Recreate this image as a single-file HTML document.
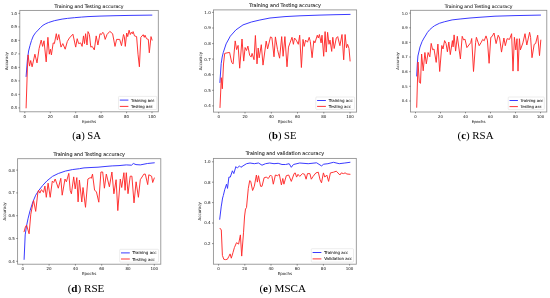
<!DOCTYPE html>
<html lang="en">
<head>
<meta charset="utf-8">
<title>Training and testing accuracy curves</title>
<style>
html,body{margin:0;padding:0;background:#fff;}
svg{display:block;}
.t{font-family:"DejaVu Sans","Liberation Sans",sans-serif;fill:#2e2e2e;stroke:#333;stroke-width:0.05;}
.tt{stroke-width:0.12;}
.lt{stroke-width:0.1;}
.cap{font-family:"Liberation Serif","DejaVu Serif",serif;fill:#000;}
.cap .b{font-weight:bold;}
.ax{fill:none;stroke:#8e8e8e;stroke-width:0.85;}
.tk{stroke:#444;stroke-width:0.6;}
.bl{fill:none;stroke:#3030ff;stroke-width:0.95;stroke-linejoin:round;stroke-linecap:round;}
.rd{fill:none;stroke:#ff2a2a;stroke-width:0.95;stroke-linejoin:round;stroke-linecap:round;}
.lg{fill:#fff;fill-opacity:0.8;stroke:#d6d6d6;stroke-width:0.45;}
</style>
</head>
<body>
<svg width="550" height="298" viewBox="0 0 550 298">
<rect x="0" y="0" width="550" height="298" fill="#fff"/>
<g id="panel-a">
<text class="t tt" x="89.1" y="8.3" font-size="4.68" text-anchor="middle">Training and Testing accuracy</text>
<polyline class="bl" points="26.1,76.5 27.4,60.0 28.6,51.0 30.0,45.5 31.5,40.5 33.3,36.0 35.5,32.8 38.1,30.1 40.5,27.5 43.0,25.3 45.8,23.7 48.6,22.5 54.3,20.7 62.1,19.1 67.3,18.4 74.3,17.7 81.4,17.1 88.0,16.6 100.0,16.1 115.0,15.7 130.0,15.4 151.9,15.1"/>
<polyline class="rd" points="26.1,107.9 27.4,68.0 28.1,54.9 29.5,66.1 30.7,60.5 32.1,66.8 34.9,54.2 37.0,62.9 39.1,48.5 41.2,40.1 42.6,46.4 44.0,40.8 46.2,61.9 47.9,37.3 49.3,54.2 50.4,49.2 51.4,54.9 53.2,42.9 54.4,43.6 56.3,33.7 57.4,40.1 58.8,34.5 61.0,47.1 62.8,43.6 65.2,49.2 67.3,41.5 69.4,38.0 72.9,34.2 75.7,47.1 77.2,38.7 78.6,43.6 80.7,42.9 82.1,46.4 83.5,35.9 84.5,43.6 85.6,33.7 87.0,45.0 88.0,31.6 89.4,34.5 90.8,47.1 92.2,46.4 94.3,49.9 96.2,35.9 97.9,45.0 100.0,33.7 101.4,34.5 102.8,32.3 103.8,33.7 105.2,39.4 107.0,34.5 109.8,31.4 112.6,33.7 115.0,46.4 116.6,39.4 119.7,39.4 121.5,45.7 123.5,34.5 124.3,36.6 125.3,46.4 126.7,33.0 127.7,36.6 129.1,30.2 130.3,34.5 131.4,32.3 132.4,33.7 133.1,31.6 134.5,35.9 136.6,36.6 138.0,54.2 139.4,66.8 140.8,37.3 143.2,34.7 144.3,37.3 145.0,35.2 146.5,38.7 148.3,39.4 149.3,52.8 151.0,36.6 152.1,40.1"/>
<rect class="ax" x="19.8" y="10.4" width="138.5" height="101.4"/>
<line class="tk" x1="18.4" y1="13.4" x2="19.8" y2="13.4"/><text class="t" x="17.1" y="14.8" font-size="3.9" text-anchor="end">1.0</text>
<line class="tk" x1="18.4" y1="26.9" x2="19.8" y2="26.9"/><text class="t" x="17.1" y="28.3" font-size="3.9" text-anchor="end">0.9</text>
<line class="tk" x1="18.4" y1="40.4" x2="19.8" y2="40.4"/><text class="t" x="17.1" y="41.8" font-size="3.9" text-anchor="end">0.8</text>
<line class="tk" x1="18.4" y1="53.9" x2="19.8" y2="53.9"/><text class="t" x="17.1" y="55.3" font-size="3.9" text-anchor="end">0.7</text>
<line class="tk" x1="18.4" y1="67.4" x2="19.8" y2="67.4"/><text class="t" x="17.1" y="68.8" font-size="3.9" text-anchor="end">0.6</text>
<line class="tk" x1="18.4" y1="80.9" x2="19.8" y2="80.9"/><text class="t" x="17.1" y="82.3" font-size="3.9" text-anchor="end">0.5</text>
<line class="tk" x1="18.4" y1="94.4" x2="19.8" y2="94.4"/><text class="t" x="17.1" y="95.8" font-size="3.9" text-anchor="end">0.4</text>
<line class="tk" x1="18.4" y1="107.9" x2="19.8" y2="107.9"/><text class="t" x="17.1" y="109.3" font-size="3.9" text-anchor="end">0.3</text>
<line class="tk" x1="24.8" y1="111.8" x2="24.8" y2="113.2"/><text class="t" x="24.8" y="117.7" font-size="3.9" text-anchor="middle">0</text>
<line class="tk" x1="50.3" y1="111.8" x2="50.3" y2="113.2"/><text class="t" x="50.3" y="117.7" font-size="3.9" text-anchor="middle">20</text>
<line class="tk" x1="75.7" y1="111.8" x2="75.7" y2="113.2"/><text class="t" x="75.7" y="117.7" font-size="3.9" text-anchor="middle">40</text>
<line class="tk" x1="101.1" y1="111.8" x2="101.1" y2="113.2"/><text class="t" x="101.1" y="117.7" font-size="3.9" text-anchor="middle">60</text>
<line class="tk" x1="126.6" y1="111.8" x2="126.6" y2="113.2"/><text class="t" x="126.6" y="117.7" font-size="3.9" text-anchor="middle">80</text>
<line class="tk" x1="152.0" y1="111.8" x2="152.0" y2="113.2"/><text class="t" x="152.0" y="117.7" font-size="3.9" text-anchor="middle">100</text>
<text class="t" x="89.1" y="122.7" font-size="3.9" text-anchor="middle">Epochs</text>
<text class="t" transform="translate(8.1,61.1) rotate(-90)" font-size="3.9" text-anchor="middle">Accuracy</text>
<rect class="lg" x="118.5" y="96.4" width="38.3" height="13.1" rx="0.8"/>
<line class="bl" x1="120.2" y1="100.1" x2="128.0" y2="100.1"/><line class="rd" x1="120.2" y1="106.4" x2="128.0" y2="106.4"/>
<text class="t lt" x="131.1" y="101.5" font-size="3.9">Training acc</text><text class="t lt" x="131.1" y="107.8" font-size="3.9">Testing acc</text>
<text class="cap" x="86.6" y="139.0" font-size="10.6" text-anchor="middle">(<tspan class="b">a</tspan>) SA</text>
</g>
<g id="panel-b">
<text class="t tt" x="285.1" y="7.3" font-size="4.83" text-anchor="middle">Training and Testing accuracy</text>
<polyline class="bl" points="219.9,82.5 220.6,72.0 221.2,63.5 222.2,57.0 223.3,52.4 226.1,43.9 230.3,36.2 235.9,29.9 243.0,24.9 251.4,22.0 259.9,20.0 270.0,18.0 285.0,16.6 300.0,15.8 320.0,15.1 335.0,14.7 350.1,14.4"/>
<polyline class="rd" points="220.0,107.5 221.3,77.7 222.3,88.8 223.5,64.0 224.7,53.4 227.0,52.9 229.6,52.4 231.7,62.5 233.1,63.9 235.2,40.9 236.6,49.6 238.1,45.4 239.7,68.2 242.0,39.0 243.7,61.1 245.1,47.5 246.5,50.5 247.9,46.1 249.7,55.5 251.2,56.9 252.1,53.4 254.0,59.7 255.4,35.5 257.0,63.9 258.2,48.0 259.2,57.8 261.3,44.7 263.0,65.1 266.2,41.1 267.6,48.9 270.5,36.9 271.9,37.6 274.0,56.8 275.4,36.9 277.5,49.6 279.6,58.2 281.7,36.6 283.1,56.3 284.9,36.6 287.0,66.8 288.5,47.1 292.0,37.3 293.4,44.3 294.5,38.0 296.2,40.1 298.3,44.3 299.7,35.2 301.4,67.5 303.0,39.4 304.2,46.4 305.6,40.1 307.5,42.2 309.2,37.3 310.3,41.5 312.1,57.7 313.8,40.8 314.9,42.9 317.3,35.2 318.3,38.0 319.4,34.5 321.1,42.9 322.0,35.2 323.7,56.3 325.1,31.6 326.2,52.1 327.6,32.3 329.0,44.3 330.0,40.1 331.7,51.4 332.8,37.3 334.2,48.5 336.3,38.0 337.7,36.6 339.9,45.7 342.0,34.5 343.7,59.8 345.1,34.5 346.5,47.8 347.6,44.3 349.0,48.5 350.1,61.0"/>
<rect class="ax" x="213.5" y="9.9" width="143.1" height="102.2"/>
<line class="tk" x1="212.1" y1="12.4" x2="213.5" y2="12.4"/><text class="t" x="210.7" y="13.8" font-size="4.0" text-anchor="end">1.0</text>
<line class="tk" x1="212.1" y1="28.0" x2="213.5" y2="28.0"/><text class="t" x="210.7" y="29.4" font-size="4.0" text-anchor="end">0.9</text>
<line class="tk" x1="212.1" y1="43.6" x2="213.5" y2="43.6"/><text class="t" x="210.7" y="45.0" font-size="4.0" text-anchor="end">0.8</text>
<line class="tk" x1="212.1" y1="59.1" x2="213.5" y2="59.1"/><text class="t" x="210.7" y="60.5" font-size="4.0" text-anchor="end">0.7</text>
<line class="tk" x1="212.1" y1="74.7" x2="213.5" y2="74.7"/><text class="t" x="210.7" y="76.1" font-size="4.0" text-anchor="end">0.6</text>
<line class="tk" x1="212.1" y1="90.3" x2="213.5" y2="90.3"/><text class="t" x="210.7" y="91.7" font-size="4.0" text-anchor="end">0.5</text>
<line class="tk" x1="212.1" y1="105.9" x2="213.5" y2="105.9"/><text class="t" x="210.7" y="107.3" font-size="4.0" text-anchor="end">0.4</text>
<line class="tk" x1="218.7" y1="112.1" x2="218.7" y2="113.5"/><text class="t" x="218.7" y="118.2" font-size="4.0" text-anchor="middle">0</text>
<line class="tk" x1="245.0" y1="112.1" x2="245.0" y2="113.5"/><text class="t" x="245.0" y="118.2" font-size="4.0" text-anchor="middle">20</text>
<line class="tk" x1="271.3" y1="112.1" x2="271.3" y2="113.5"/><text class="t" x="271.3" y="118.2" font-size="4.0" text-anchor="middle">40</text>
<line class="tk" x1="297.5" y1="112.1" x2="297.5" y2="113.5"/><text class="t" x="297.5" y="118.2" font-size="4.0" text-anchor="middle">60</text>
<line class="tk" x1="323.8" y1="112.1" x2="323.8" y2="113.5"/><text class="t" x="323.8" y="118.2" font-size="4.0" text-anchor="middle">80</text>
<line class="tk" x1="350.1" y1="112.1" x2="350.1" y2="113.5"/><text class="t" x="350.1" y="118.2" font-size="4.0" text-anchor="middle">100</text>
<text class="t" x="285.1" y="123.3" font-size="4.0" text-anchor="middle">Epochs</text>
<text class="t" transform="translate(201.5,61.0) rotate(-90)" font-size="4.0" text-anchor="middle">Accuracy</text>
<rect class="lg" x="315.8" y="97.0" width="38.8" height="12.4" rx="0.8"/>
<line class="bl" x1="317.5" y1="100.5" x2="325.5" y2="100.5"/><line class="rd" x1="317.5" y1="106.4" x2="325.5" y2="106.4"/>
<text class="t lt" x="328.7" y="101.9" font-size="4.0">Training acc</text><text class="t lt" x="328.7" y="107.9" font-size="4.0">Testing acc</text>
<text class="cap" x="282.5" y="139.0" font-size="10.6" text-anchor="middle">(<tspan class="b">b</tspan>) SE</text>
</g>
<g id="panel-c">
<text class="t tt" x="478.6" y="8.1" font-size="4.57" text-anchor="middle">Training and Testing accuracy</text>
<polyline class="bl" points="416.7,76.0 417.3,64.0 417.9,56.0 420.0,47.0 422.1,41.5 424.0,38.0 425.3,36.0 427.3,32.6 429.7,29.7 432.2,27.5 434.6,25.7 439.4,23.3 444.3,21.8 452.1,19.9 460.1,19.0 470.0,18.0 478.0,17.4 495.0,16.2 515.0,15.6 530.0,15.3 540.5,15.1"/>
<polyline class="rd" points="416.7,107.3 418.0,62.0 419.3,82.3 420.5,83.3 421.6,54.0 423.2,70.8 424.9,52.5 426.3,63.8 428.1,52.5 429.8,56.8 431.2,43.4 432.6,49.7 434.0,49.0 436.2,62.4 437.9,44.1 439.7,71.5 441.8,45.5 443.0,49.0 444.6,40.6 446.0,43.4 447.4,51.8 448.8,42.0 450.3,54.6 452.4,40.6 453.1,46.9 454.1,34.9 455.6,51.1 457.3,36.3 460.4,58.9 462.2,36.3 463.6,39.9 465.0,39.2 466.9,47.6 470.7,42.7 471.7,38.5 473.5,71.5 475.6,42.7 476.4,37.3 479.2,45.7 481.3,42.2 482.7,39.4 484.2,40.8 486.0,35.9 487.4,40.1 489.1,63.3 490.8,37.3 492.0,36.6 494.0,33.0 496.1,43.6 498.2,35.2 499.6,38.0 501.5,52.1 503.9,38.0 505.3,45.7 507.1,38.7 509.5,39.4 511.6,33.7 513.0,71.1 514.4,37.3 515.8,49.9 517.0,38.7 518.0,71.1 519.4,38.7 520.4,49.9 522.9,42.9 525.0,33.7 526.8,45.0 529.6,32.3 530.6,37.3 532.0,57.7 534.2,44.3 535.6,43.6 537.7,35.2 539.5,55.6 540.8,40.1"/>
<rect class="ax" x="410.5" y="10.3" width="136.3" height="101.7"/>
<line class="tk" x1="409.2" y1="13.1" x2="410.5" y2="13.1"/><text class="t" x="407.8" y="14.5" font-size="3.8" text-anchor="end">1.0</text>
<line class="tk" x1="409.2" y1="27.8" x2="410.5" y2="27.8"/><text class="t" x="407.8" y="29.1" font-size="3.8" text-anchor="end">0.9</text>
<line class="tk" x1="409.2" y1="42.4" x2="410.5" y2="42.4"/><text class="t" x="407.8" y="43.8" font-size="3.8" text-anchor="end">0.8</text>
<line class="tk" x1="409.2" y1="57.0" x2="410.5" y2="57.0"/><text class="t" x="407.8" y="58.4" font-size="3.8" text-anchor="end">0.7</text>
<line class="tk" x1="409.2" y1="71.7" x2="410.5" y2="71.7"/><text class="t" x="407.8" y="73.1" font-size="3.8" text-anchor="end">0.6</text>
<line class="tk" x1="409.2" y1="86.3" x2="410.5" y2="86.3"/><text class="t" x="407.8" y="87.7" font-size="3.8" text-anchor="end">0.5</text>
<line class="tk" x1="409.2" y1="101.0" x2="410.5" y2="101.0"/><text class="t" x="407.8" y="102.4" font-size="3.8" text-anchor="end">0.4</text>
<line class="tk" x1="415.5" y1="112.0" x2="415.5" y2="113.3"/><text class="t" x="415.5" y="117.8" font-size="3.8" text-anchor="middle">0</text>
<line class="tk" x1="440.5" y1="112.0" x2="440.5" y2="113.3"/><text class="t" x="440.5" y="117.8" font-size="3.8" text-anchor="middle">20</text>
<line class="tk" x1="465.5" y1="112.0" x2="465.5" y2="113.3"/><text class="t" x="465.5" y="117.8" font-size="3.8" text-anchor="middle">40</text>
<line class="tk" x1="490.5" y1="112.0" x2="490.5" y2="113.3"/><text class="t" x="490.5" y="117.8" font-size="3.8" text-anchor="middle">60</text>
<line class="tk" x1="515.5" y1="112.0" x2="515.5" y2="113.3"/><text class="t" x="515.5" y="117.8" font-size="3.8" text-anchor="middle">80</text>
<line class="tk" x1="540.5" y1="112.0" x2="540.5" y2="113.3"/><text class="t" x="540.5" y="117.8" font-size="3.8" text-anchor="middle">100</text>
<text class="t" x="478.6" y="122.6" font-size="3.8" text-anchor="middle">Epochs</text>
<text class="t" transform="translate(399.1,61.1) rotate(-90)" font-size="3.8" text-anchor="middle">Accuracy</text>
<rect class="lg" x="508.2" y="97.0" width="36.1" height="12.6" rx="0.8"/>
<line class="bl" x1="509.9" y1="100.5" x2="517.5" y2="100.5"/><line class="rd" x1="509.9" y1="106.6" x2="517.5" y2="106.6"/>
<text class="t lt" x="520.5" y="101.9" font-size="3.8">Training acc</text><text class="t lt" x="520.5" y="107.9" font-size="3.8">Testing acc</text>
<text class="cap" x="475.5" y="139.0" font-size="10.9" text-anchor="middle">(<tspan class="b">c</tspan>) RSA</text>
</g>
<g id="panel-d">
<text class="t tt" x="89.2" y="156.0" font-size="4.83" text-anchor="middle">Training and Testing accuracy</text>
<polyline class="bl" points="24.1,259.4 25.2,234.9 26.5,226.0 28.0,218.8 30.1,210.5 32.9,201.8 35.7,195.2 38.5,190.8 42.8,185.3 47.0,180.8 52.6,176.3 58.3,173.5 65.3,171.1 72.3,169.6 79.4,168.7 84.0,167.9 91.0,167.5 98.0,167.2 105.0,166.5 112.2,165.9 119.0,165.6 126.3,164.9 131.5,165.2 133.3,163.5 136.0,164.6 140.3,164.9 147.4,163.5 154.3,162.8"/>
<polyline class="rd" points="24.1,231.7 25.4,227.0 26.6,225.1 28.0,230.0 29.1,233.8 30.8,214.2 32.2,207.0 33.6,200.5 35.7,211.4 37.8,193.0 38.5,190.3 39.9,193.1 41.4,189.6 43.5,192.4 44.9,186.1 46.3,197.3 48.1,183.2 50.2,197.3 52.3,181.1 53.7,182.5 55.2,179.0 58.3,188.2 60.8,178.3 62.2,195.2 65.0,179.0 66.4,181.8 68.8,173.4 70.2,190.3 71.4,193.8 73.7,176.9 75.2,188.9 76.8,177.6 78.1,201.9 79.4,180.1 81.8,202.0 83.0,187.5 85.5,207.3 87.9,179.0 90.3,177.6 91.3,178.3 92.5,174.1 94.6,190.3 96.4,191.7 98.8,202.2 100.9,172.0 102.7,172.0 104.4,188.2 106.3,174.1 109.4,186.8 111.9,172.0 113.9,193.8 116.1,179.7 117.8,210.6 120.3,179.0 121.7,187.5 123.9,172.7 125.1,190.3 126.3,172.7 128.0,193.7 130.2,176.2 131.9,176.2 134.0,202.9 136.1,181.8 138.4,197.3 140.3,179.7 143.9,174.1 145.3,174.1 147.7,184.6 148.8,174.8 151.6,176.2 152.7,182.5 154.3,178.0"/>
<rect class="ax" x="17.6" y="158.7" width="143.2" height="105.5"/>
<line class="tk" x1="16.2" y1="170.1" x2="17.6" y2="170.1"/><text class="t" x="14.8" y="171.5" font-size="4.0" text-anchor="end">0.8</text>
<line class="tk" x1="16.2" y1="192.9" x2="17.6" y2="192.9"/><text class="t" x="14.8" y="194.3" font-size="4.0" text-anchor="end">0.7</text>
<line class="tk" x1="16.2" y1="215.7" x2="17.6" y2="215.7"/><text class="t" x="14.8" y="217.1" font-size="4.0" text-anchor="end">0.6</text>
<line class="tk" x1="16.2" y1="238.5" x2="17.6" y2="238.5"/><text class="t" x="14.8" y="239.9" font-size="4.0" text-anchor="end">0.5</text>
<line class="tk" x1="16.2" y1="261.3" x2="17.6" y2="261.3"/><text class="t" x="14.8" y="262.7" font-size="4.0" text-anchor="end">0.4</text>
<line class="tk" x1="22.8" y1="264.2" x2="22.8" y2="265.6"/><text class="t" x="22.8" y="270.3" font-size="4.0" text-anchor="middle">0</text>
<line class="tk" x1="49.1" y1="264.2" x2="49.1" y2="265.6"/><text class="t" x="49.1" y="270.3" font-size="4.0" text-anchor="middle">20</text>
<line class="tk" x1="75.4" y1="264.2" x2="75.4" y2="265.6"/><text class="t" x="75.4" y="270.3" font-size="4.0" text-anchor="middle">40</text>
<line class="tk" x1="101.7" y1="264.2" x2="101.7" y2="265.6"/><text class="t" x="101.7" y="270.3" font-size="4.0" text-anchor="middle">60</text>
<line class="tk" x1="128.0" y1="264.2" x2="128.0" y2="265.6"/><text class="t" x="128.0" y="270.3" font-size="4.0" text-anchor="middle">80</text>
<line class="tk" x1="154.3" y1="264.2" x2="154.3" y2="265.6"/><text class="t" x="154.3" y="270.3" font-size="4.0" text-anchor="middle">100</text>
<text class="t" x="89.2" y="275.4" font-size="4.0" text-anchor="middle">Epochs</text>
<text class="t" transform="translate(5.6,211.4) rotate(-90)" font-size="4.0" text-anchor="middle">Accuracy</text>
<rect class="lg" x="119.7" y="249.3" width="38.8" height="12.8" rx="0.8"/>
<line class="bl" x1="121.4" y1="252.9" x2="129.4" y2="252.9"/><line class="rd" x1="121.4" y1="259.0" x2="129.4" y2="259.0"/>
<text class="t lt" x="132.6" y="254.3" font-size="4.0">Training acc</text><text class="t lt" x="132.6" y="260.5" font-size="4.0">Testing acc</text>
<text class="cap" x="86.0" y="291.8" font-size="11.1" text-anchor="middle">(<tspan class="b">d</tspan>) RSE</text>
</g>
<g id="panel-e">
<text class="t tt" x="284.9" y="155.2" font-size="4.83" text-anchor="middle">Training and validation accuracy</text>
<polyline class="bl" points="219.7,219.3 221.2,206.9 222.6,198.0 223.3,195.6 224.7,189.8 226.5,184.2 227.5,188.4 228.9,177.1 230.3,177.1 232.4,170.8 233.8,173.6 235.9,166.6 237.3,168.0 239.5,165.9 240.9,167.3 243.0,165.9 246.5,163.7 250.0,163.0 254.3,163.7 258.5,163.0 262.0,165.2 265.5,163.7 269.7,163.0 274.0,163.7 278.2,163.3 282.0,164.5 285.6,164.5 289.2,163.7 291.3,167.3 293.4,164.5 299.7,163.0 308.2,163.7 316.6,162.8 321.5,165.9 323.7,164.2 327.9,163.7 333.5,162.3 339.2,163.7 344.8,163.0 350.0,162.3"/>
<polyline class="rd" points="220.0,228.3 221.3,230.0 222.4,255.4 223.8,259.3 225.5,259.6 227.3,259.3 228.7,256.8 230.1,253.9 231.3,258.2 233.0,252.5 234.4,247.6 236.5,242.7 238.6,244.1 240.4,234.9 241.7,256.1 243.5,232.8 244.6,216.0 245.5,209.0 246.5,207.6 247.4,198.0 248.3,188.4 249.7,180.6 250.7,181.3 252.6,190.5 254.3,186.3 256.4,175.0 257.4,182.1 258.5,175.7 260.6,186.3 262.0,186.3 264.1,177.8 266.2,177.1 268.3,178.5 270.5,175.0 271.9,176.4 273.3,184.2 275.4,175.0 277.5,175.7 279.3,174.3 281.4,184.9 282.8,178.5 283.9,184.2 286.3,175.7 288.7,175.0 291.3,181.4 294.1,173.6 295.2,172.9 296.6,177.1 298.0,174.3 299.7,176.4 302.5,173.6 304.6,174.3 306.1,179.2 307.5,173.6 309.9,173.6 311.3,179.2 313.1,176.4 315.9,172.9 318.3,172.2 320.1,179.9 321.5,182.8 323.4,172.9 324.8,177.1 326.8,175.0 328.6,181.4 330.4,172.9 333.5,172.2 336.3,171.2 339.9,175.0 341.3,172.9 343.4,173.6 345.1,172.9 346.9,174.0 350.0,174.3"/>
<rect class="ax" x="213.4" y="158.4" width="142.9" height="105.8"/>
<line class="tk" x1="212.0" y1="161.8" x2="213.4" y2="161.8"/><text class="t" x="210.6" y="163.2" font-size="4.0" text-anchor="end">1.0</text>
<line class="tk" x1="212.0" y1="182.2" x2="213.4" y2="182.2"/><text class="t" x="210.6" y="183.6" font-size="4.0" text-anchor="end">0.8</text>
<line class="tk" x1="212.0" y1="202.6" x2="213.4" y2="202.6"/><text class="t" x="210.6" y="204.0" font-size="4.0" text-anchor="end">0.6</text>
<line class="tk" x1="212.0" y1="223.0" x2="213.4" y2="223.0"/><text class="t" x="210.6" y="224.4" font-size="4.0" text-anchor="end">0.4</text>
<line class="tk" x1="212.0" y1="243.6" x2="213.4" y2="243.6"/><text class="t" x="210.6" y="245.0" font-size="4.0" text-anchor="end">0.2</text>
<line class="tk" x1="218.6" y1="264.2" x2="218.6" y2="265.6"/><text class="t" x="218.6" y="270.3" font-size="4.0" text-anchor="middle">0</text>
<line class="tk" x1="244.8" y1="264.2" x2="244.8" y2="265.6"/><text class="t" x="244.8" y="270.3" font-size="4.0" text-anchor="middle">20</text>
<line class="tk" x1="271.0" y1="264.2" x2="271.0" y2="265.6"/><text class="t" x="271.0" y="270.3" font-size="4.0" text-anchor="middle">40</text>
<line class="tk" x1="297.2" y1="264.2" x2="297.2" y2="265.6"/><text class="t" x="297.2" y="270.3" font-size="4.0" text-anchor="middle">60</text>
<line class="tk" x1="323.4" y1="264.2" x2="323.4" y2="265.6"/><text class="t" x="323.4" y="270.3" font-size="4.0" text-anchor="middle">80</text>
<line class="tk" x1="349.6" y1="264.2" x2="349.6" y2="265.6"/><text class="t" x="349.6" y="270.3" font-size="4.0" text-anchor="middle">100</text>
<text class="t" x="284.9" y="275.4" font-size="4.0" text-anchor="middle">Epochs</text>
<text class="t" transform="translate(201.4,211.3) rotate(-90)" font-size="4.0" text-anchor="middle">Accuracy</text>
<rect class="lg" x="311.3" y="248.7" width="42.2" height="13.4" rx="0.8"/>
<line class="bl" x1="313.0" y1="252.5" x2="321.0" y2="252.5"/><line class="rd" x1="313.0" y1="258.9" x2="321.0" y2="258.9"/>
<text class="t lt" x="324.2" y="253.9" font-size="4.0">Training acc</text><text class="t lt" x="324.2" y="260.3" font-size="4.0">Validation acc</text>
<text class="cap" x="282.7" y="291.8" font-size="11.1" text-anchor="middle">(<tspan class="b">e</tspan>) MSCA</text>
</g>
</svg>
</body>
</html>
